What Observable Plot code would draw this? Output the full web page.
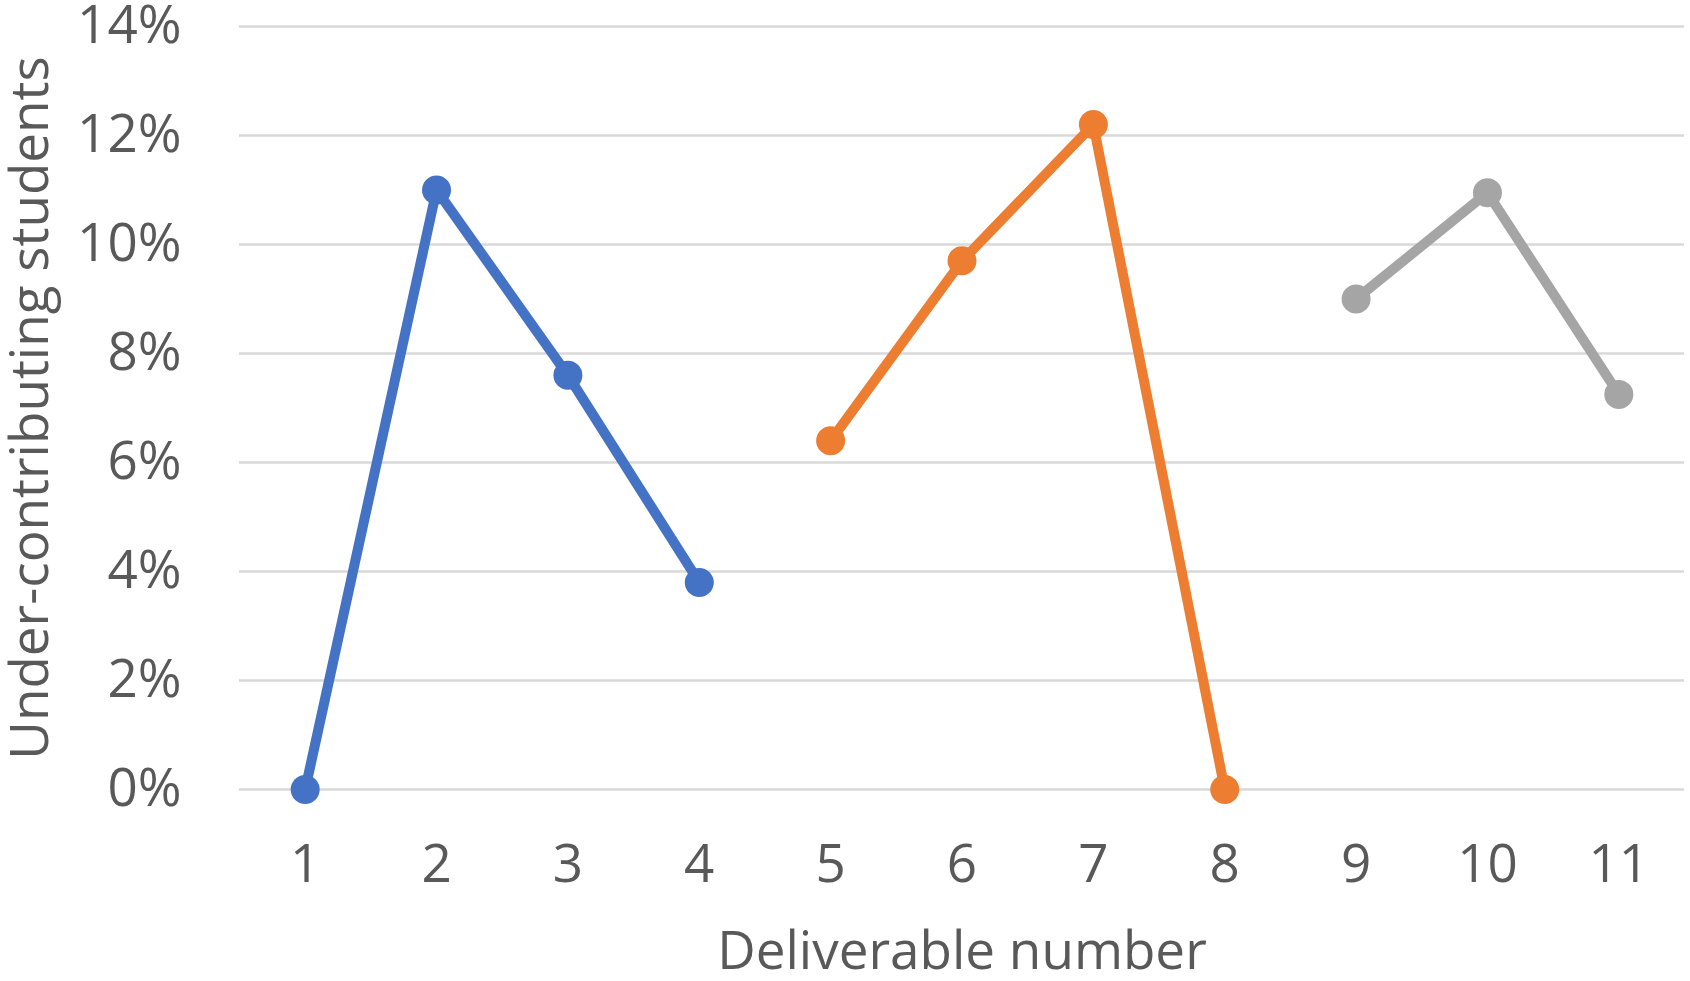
<!DOCTYPE html>
<html>
<head>
<meta charset="utf-8">
<script src="https://cdn.jsdelivr.net/npm/d3@7"></script>
<script src="https://cdn.jsdelivr.net/npm/@observablehq/plot@0.6"></script>
<style>
  html, body { margin: 0; padding: 0; background: #fff; }
  #chart svg { display: block; }
</style>
</head>
<body>
<div id="chart"></div>
<script>
const deliverables = [1, 2, 3, 4, 5, 6, 7, 8, 9, 10, 11];
const underContributing = [0, 0.110, 0.076, 0.038, 0.064, 0.097, 0.122, 0, 0.090, 0.1095, 0.0725];
const phases = ["A", "A", "A", "A", "B", "B", "B", "B", "C", "C", "C"];
const phaseNames = ["A", "B", "C"];
const phaseColors = ["#4472C4", "#ED7D31", "#A5A5A5"];
const yTicks = [0, 0.02, 0.04, 0.06, 0.08, 0.10, 0.12, 0.14];
const xTicks = deliverables;
const xTitle = "Deliverable number";
const yTitle = "Under-contributing students";

const rows = deliverables.map((d, i) => ({x: d, y: underContributing[i], phase: phases[i]}));

const textColor = "#595959";
const font = "'Open Sans', 'Noto Sans', sans-serif";
const fs = 53;

const chart = Plot.plot({
  width: 1690,
  height: 981,
  marginLeft: 239,
  marginRight: 6,
  marginTop: 26,
  marginBottom: 192,
  style: {fontFamily: font, fontSize: fs + "px", color: textColor, background: "#fff", overflow: "visible"},
  x: {type: "linear", domain: [0.5, 11.5]},
  y: {domain: [0, 0.14]},
  color: {domain: phaseNames, range: phaseColors},
  marks: [
    Plot.ruleY(yTicks, {stroke: "#d9d9d9", strokeWidth: 2.5}),
    Plot.axisY({ticks: yTicks, tickSize: 0, tickPadding: 58, tickFormat: d => Math.round(d * 100) + "%", label: null, fill: textColor, fontSize: fs}),
    Plot.axisX({ticks: xTicks, tickSize: 0, tickPadding: 55, tickFormat: d => String(d), label: null, fill: textColor, fontSize: fs}),
    Plot.line(rows, {x: "x", y: "y", z: "phase", stroke: "phase", strokeWidth: 10, strokeLinejoin: "round", strokeLinecap: "round"}),
    Plot.dot(rows, {x: "x", y: "y", fill: "phase", r: 14.5, stroke: null}),
    Plot.text([yTitle], {frameAnchor: "left", dx: -208, rotate: -90, fill: textColor, fontSize: fs, textAnchor: "middle", lineAnchor: "middle"}),
    Plot.text([xTitle], {frameAnchor: "bottom", dy: 163, fill: textColor, fontSize: fs, textAnchor: "middle", lineAnchor: "middle"})
  ]
});
document.getElementById("chart").appendChild(chart);
</script>
</body>
</html>
